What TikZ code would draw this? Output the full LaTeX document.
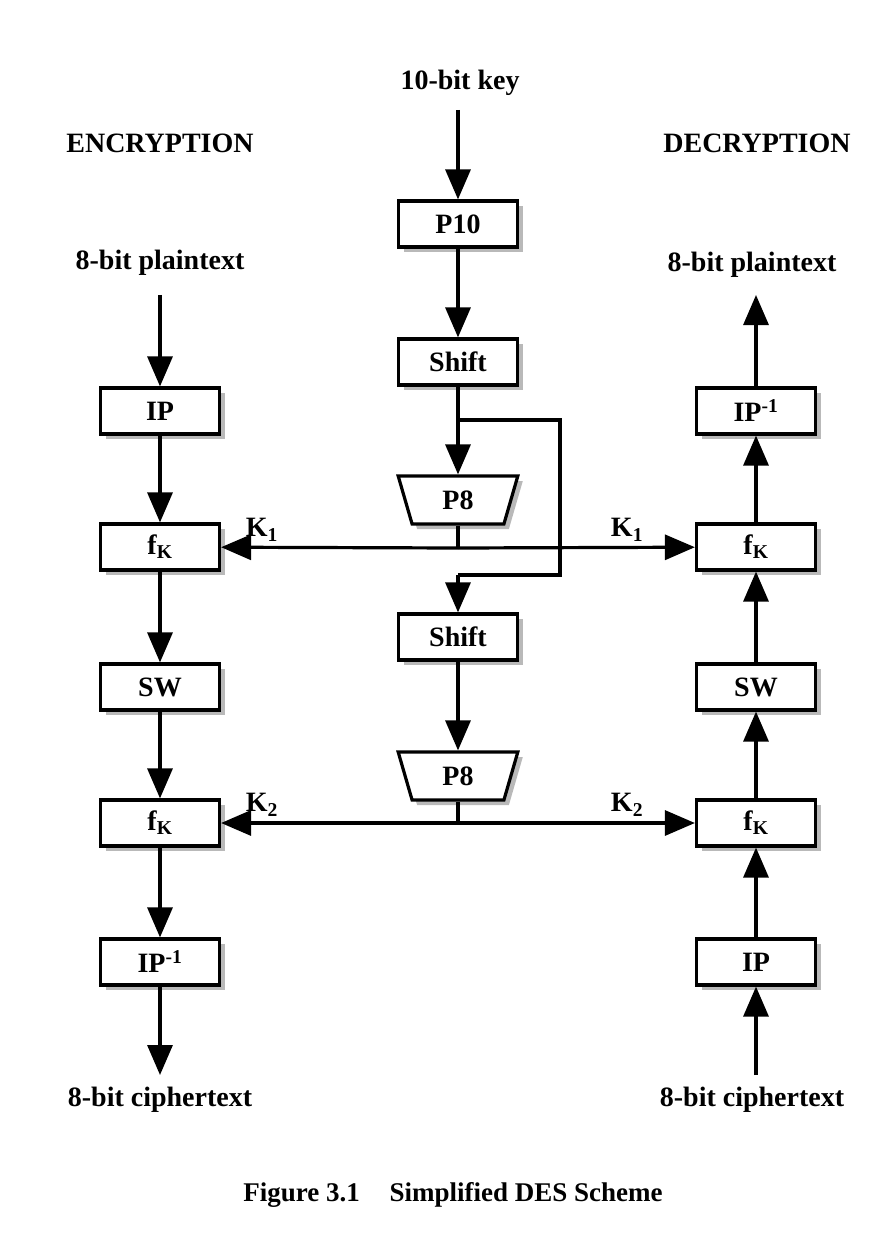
\documentclass[tikz,border=0pt]{standalone}
\usepackage{fontspec}
\setmainfont{Liberation Serif}
\usetikzlibrary{arrows.meta,shapes.geometric,shadows}
\begin{document}
\begin{tikzpicture}[x=1pt,y=-1pt,
  font=\fontsize{28}{32}\selectfont\bfseries,
  box/.style={draw,line width=3.2pt,fill=white,minimum width=119pt,minimum height=46pt,inner sep=0pt,
    drop shadow={shadow xshift=5pt,shadow yshift=-5pt,fill=gray!55,opacity=1}},
  trap/.style={trapezium,trapezium stretches=true,shape border rotate=180,trapezium angle=76,draw,line width=3.2pt,fill=white,minimum width=120pt,minimum height=48pt,inner sep=0pt,
    drop shadow={shadow xshift=5pt,shadow yshift=-5pt,fill=gray!55,opacity=1}},
  ln/.style={line width=3.2pt},
  ar/.style={line width=3.2pt,-{Triangle[width=25pt,length=30pt]}},
  lab/.style={inner sep=2pt}]
\useasboundingbox (0,0) rectangle (884,1238);
% center
\node[lab] (key) at (460,83) {10-bit key};
\node[box] (p10) at (458,224) {P10};
\node[box] (sh1) at (458,362) {Shift};
\node[trap] (p8a) at (458,500) {P8};
\node[box] (sh2) at (458,637) {Shift};
\node[trap] (p8b) at (458,776) {P8};
% left
\node[lab] (enc) at (160,143) {ENCRYPTION};
\node[lab] (pt1) at (160,263) {8-bit plaintext};
\node[box] (ip1) at (160,411) {IP};
\node[box] (fk1) at (160,547) {f\textsubscript{K}};
\node[box] (sw1) at (160,687) {SW};
\node[box] (fk2) at (160,823) {f\textsubscript{K}};
\node[box] (ipi1) at (160,962) {IP\textsuperscript{-1}};
\node[lab] (ct1) at (160,1100) {8-bit ciphertext};
% right
\node[lab] (dec) at (757,143) {DECRYPTION};
\node[lab] (pt2) at (752,265) {8-bit plaintext};
\node[box] (ipi2) at (756,411) {IP\textsuperscript{-1}};
\node[box] (fk3) at (756,547) {f\textsubscript{K}};
\node[box] (sw2) at (756,687) {SW};
\node[box] (fk4) at (756,823) {f\textsubscript{K}};
\node[box] (ip2) at (756,962) {IP};
\node[lab] (ct2) at (752,1100) {8-bit ciphertext};
% center arrows
\draw[ar] (458,110) -- (p10);
\draw[ar] (p10) -- (sh1);
\draw[ar] (sh1) -- (p8a);
\coordinate (b1) at (458,420);
\coordinate (b2) at (560,420);
\coordinate (b3) at (560,575);
\coordinate (b4) at (458,575);
\draw[ln] (b1) -- (b2) -- (b3) -- (b4);
\draw[ar] (b4) -- (sh2);
\draw[ar] (sh2) -- (p8b);
% keys
\coordinate (k1) at (458,548);
\coordinate (k2) at (458,823);
\draw[ln] (p8a) -- (k1);
\draw[ln] (p8b) -- (k2);
\draw[ar] (k1) -- (fk1);
\draw[ar] (k1) -- (fk3);
\draw[ar] (k2) -- (fk2);
\draw[ar] (k2) -- (fk4);
\node[lab] at (262,530) {K\textsubscript{1}};
\node[lab] at (627,530) {K\textsubscript{1}};
\node[lab] at (262,805) {K\textsubscript{2}};
\node[lab] at (627,805) {K\textsubscript{2}};
% left arrows
\draw[ar] (160,295) -- (ip1);
\draw[ar] (ip1) -- (fk1);
\draw[ar] (fk1) -- (sw1);
\draw[ar] (sw1) -- (fk2);
\draw[ar] (fk2) -- (ipi1);
\draw[ar] (ipi1) -- (160,1075);
% right arrows
\draw[ar] (ipi2) -- (756,295);
\draw[ar] (fk3) -- (ipi2);
\draw[ar] (sw2) -- (fk3);
\draw[ar] (fk4) -- (sw2);
\draw[ar] (ip2) -- (fk4);
\draw[ar] (756,1075) -- (ip2);
\node[lab,font=\fontsize{27}{31}\selectfont\bfseries] (cap) at (453,1195) {Figure 3.1\hspace{1.1em}Simplified DES Scheme};
\end{tikzpicture}
\end{document}
